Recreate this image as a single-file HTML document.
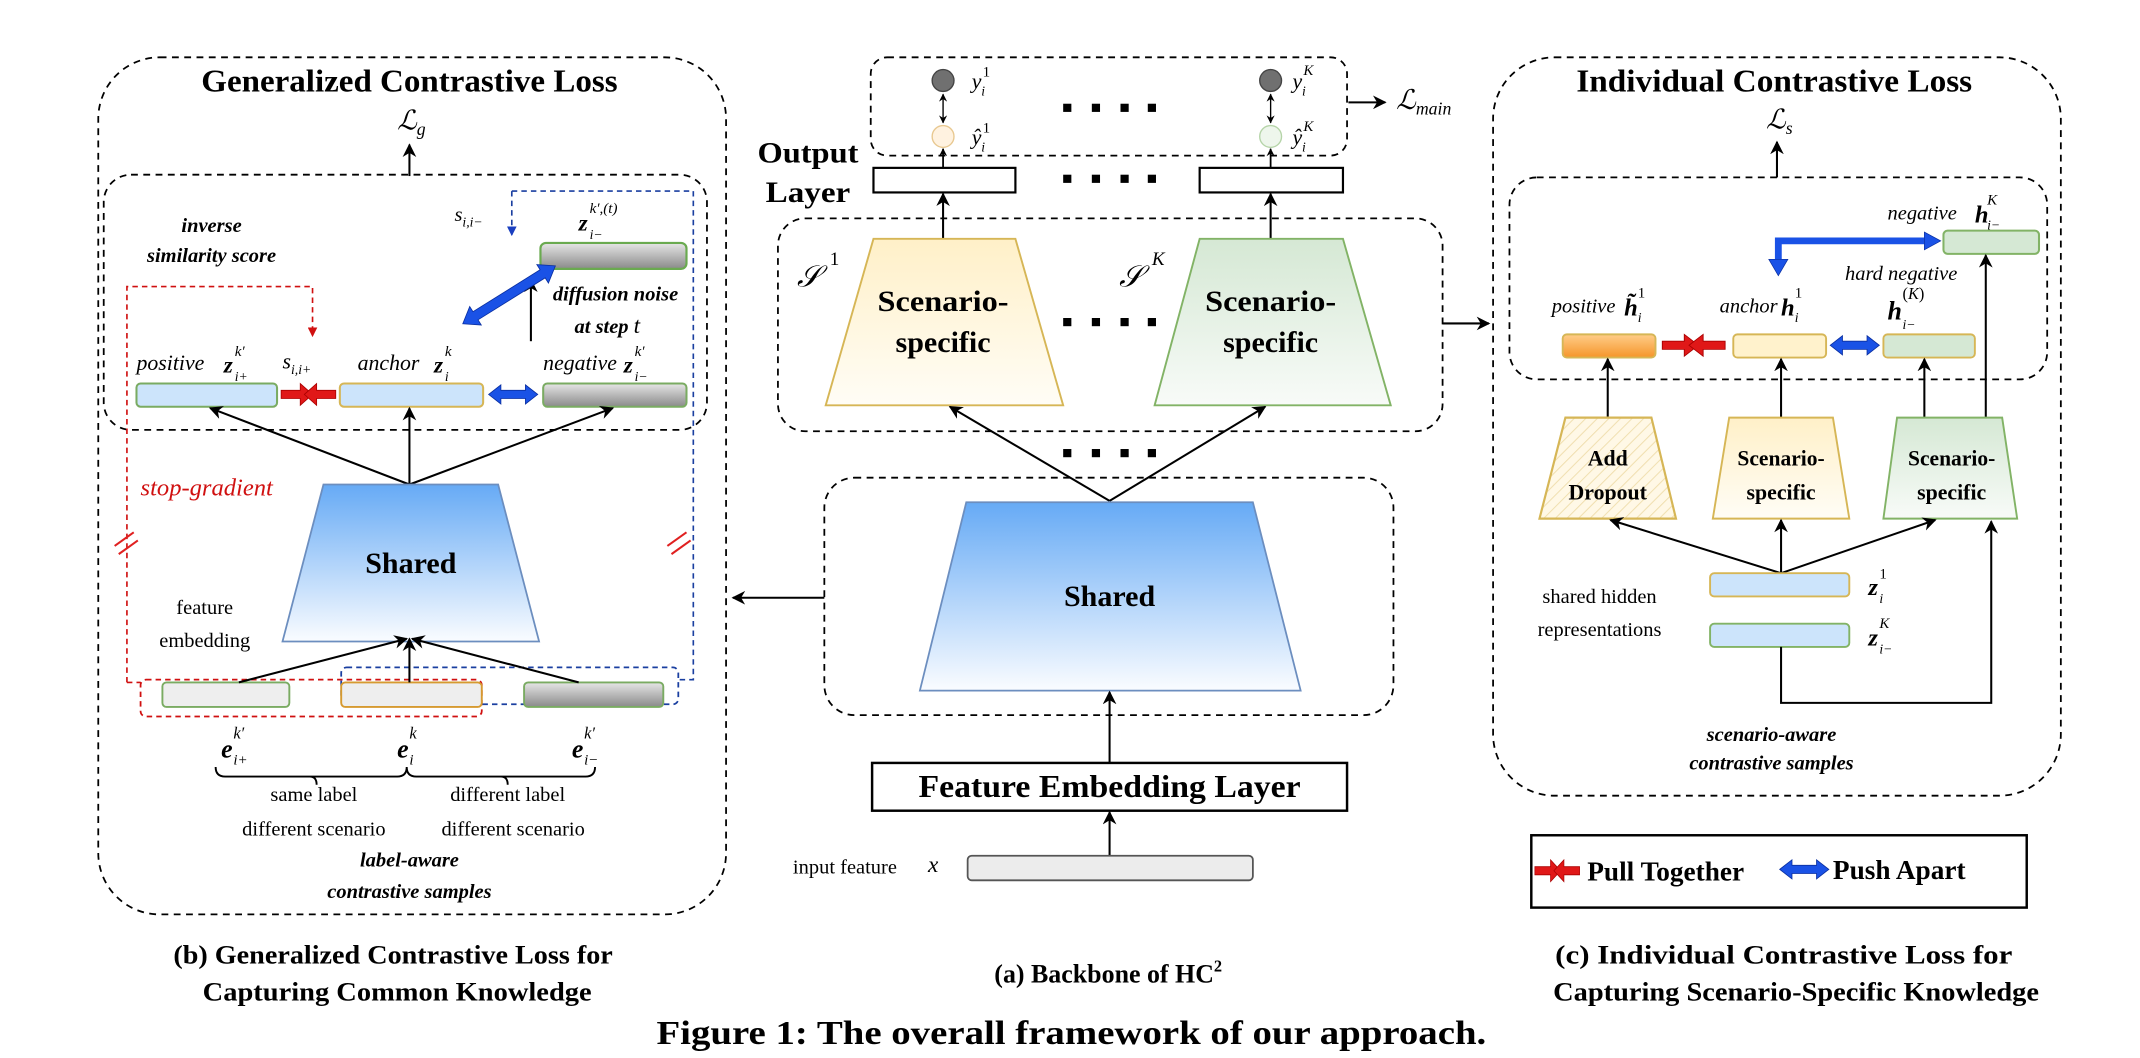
<!DOCTYPE html>
<html><head><meta charset="utf-8"><style>
html,body{margin:0;padding:0;background:#fff;}
svg{display:block;}
text{font-family:"Liberation Serif",serif;fill:#000;}
.b{font-weight:bold;}
.i{font-style:italic;}
.m{font-style:italic;}
.d{fill:none;stroke:#000;stroke-width:1.3;stroke-dasharray:5 4;}
.ln{stroke:#000;stroke-width:1.5;fill:none;}
</style></head><body>
<svg width="2140" height="1058" viewBox="0 0 1568 775.2" preserveAspectRatio="none" xmlns="http://www.w3.org/2000/svg">
<defs>
<marker id="ah" markerWidth="10" markerHeight="10" refX="9" refY="5" orient="auto" markerUnits="userSpaceOnUse">
<path d="M0,0 L10,5 L0,10 L3,5 Z" fill="#000"/></marker>
<marker id="ahs" markerWidth="6" markerHeight="6" refX="5.5" refY="3" orient="auto-start-reverse" markerUnits="userSpaceOnUse">
<path d="M0,0 L6,3 L0,6 L2,3 Z" fill="#000"/></marker>
<marker id="ahb" markerWidth="7" markerHeight="7" refX="6" refY="3.5" orient="auto" markerUnits="userSpaceOnUse">
<path d="M0,0 L7,3.5 L0,7 Z" fill="#1a3fc0"/></marker>
<marker id="ahr" markerWidth="7" markerHeight="7" refX="6" refY="3.5" orient="auto" markerUnits="userSpaceOnUse">
<path d="M0,0 L7,3.5 L0,7 Z" fill="#d01010"/></marker>
<linearGradient id="gb" x1="0" y1="0" x2="0" y2="1"><stop offset="0" stop-color="#66aaf5"/><stop offset="1" stop-color="#fafcff"/></linearGradient>
<linearGradient id="gy" x1="0" y1="0" x2="0" y2="1"><stop offset="0" stop-color="#fff0c8"/><stop offset="1" stop-color="#fffdf6"/></linearGradient>
<linearGradient id="gg" x1="0" y1="0" x2="0" y2="1"><stop offset="0" stop-color="#d5e8d4"/><stop offset="1" stop-color="#f8fbf8"/></linearGradient>
<linearGradient id="gr" x1="0" y1="0" x2="0" y2="1"><stop offset="0" stop-color="#e6e6e6"/><stop offset="1" stop-color="#8a8a8a"/></linearGradient>
<linearGradient id="go" x1="0" y1="0" x2="0" y2="1"><stop offset="0" stop-color="#ffcd8a"/><stop offset="1" stop-color="#f5952a"/></linearGradient>
<pattern id="hatch" width="6" height="6" patternUnits="userSpaceOnUse" patternTransform="rotate(45)"><rect width="6" height="6" fill="#fff8e6"/><line x1="0" y1="0" x2="0" y2="6" stroke="#f0dfb0" stroke-width="1.5"/></pattern>
<g id="pull"><polygon points="-20,-3 -6,-3 -6,-8 3,0 -6,8 -6,3 -20,3" fill="#e01818" stroke="#a00" stroke-width="0.6"/><polygon points="20,-3 6,-3 6,-8 -3,0 6,8 6,3 20,3" fill="#e01818" stroke="#a00" stroke-width="0.6"/></g>
<g id="push"><polygon points="-18,0 -9,-7 -9,-3 9,-3 9,-7 18,0 9,7 9,3 -9,3 -9,7" fill="#1a52e6" stroke="#0a2fa0" stroke-width="0.6"/></g>
</defs>

<!-- ============ LEFT PANEL (b) ============ -->
<rect x="72" y="42" width="460" height="628" rx="45" class="d"/>
<text x="300" y="67" class="b" font-size="23" text-anchor="middle" textLength="305" lengthAdjust="spacingAndGlyphs">Generalized Contrastive Loss</text>
<text x="291" y="95" class="m" font-size="20">ℒ<tspan font-size="13" dy="4">g</tspan></text>
<line x1="300" y1="129" x2="300" y2="106" class="ln" marker-end="url(#ah)"/>
<rect x="76" y="128" width="442" height="187" rx="20" class="d"/>

<path d="M375,140 H508 V498 H497" fill="none" stroke="#1a3fa0" stroke-width="1.2" stroke-dasharray="4 3"/>
<line x1="375" y1="140" x2="375" y2="172" stroke="#1a3fa0" stroke-width="1.2" stroke-dasharray="4 3" marker-end="url(#ahb)"/>
<text x="333" y="162" class="m" font-size="15">s<tspan font-size="10" dy="4">i,i−</tspan></text>
<text x="424" y="169" class="m b" font-size="17">z</text>
<text x="432" y="156" class="m" font-size="11">k′,(t)</text>
<text x="432" y="175" class="m" font-size="10">i−</text>
<rect x="396" y="178" width="107" height="19" rx="4" fill="url(#gr)" stroke="#6aaa50" stroke-width="1.6"/>
<line x1="389" y1="250" x2="389" y2="205" class="ln" marker-end="url(#ah)"/>
<text x="451" y="220" class="b i" font-size="15" text-anchor="middle">diffusion noise</text>
<text x="445" y="244" class="b i" font-size="15" text-anchor="middle">at step <tspan font-weight="normal" font-size="17">t</tspan></text>
<g transform="translate(373,216) rotate(-32)"><polygon points="-40,0 -29,-8 -29,-3.5 29,-3.5 29,-8 40,0 29,8 29,3.5 -29,3.5 -29,8" fill="#1a52e6" stroke="#0a2fa0" stroke-width="0.6"/></g>
<text x="155" y="170" class="b i" font-size="15" text-anchor="middle">inverse</text>
<text x="155" y="192" class="b i" font-size="15" text-anchor="middle">similarity score</text>
<path d="M93,500 V210 H229 V246" fill="none" stroke="#d01010" stroke-width="1.2" stroke-dasharray="4 3" marker-end="url(#ahr)"/>
<path d="M93,500 H103" fill="none" stroke="#d01010" stroke-width="1.2" stroke-dasharray="4 3"/>

<text x="100" y="271" class="i" font-size="16">positive</text>
<text x="164" y="273" class="m b" font-size="17">z</text><text x="172" y="261" class="m" font-size="11">k′</text><text x="172" y="279" class="m" font-size="10">i+</text>
<text x="207" y="270" class="m" font-size="16">s<tspan font-size="10" dy="4">i,i+</tspan></text>
<text x="262" y="271" class="i" font-size="16">anchor</text>
<text x="318" y="273" class="m b" font-size="17">z</text><text x="326" y="261" class="m" font-size="11">k</text><text x="326" y="279" class="m" font-size="10">i</text>
<text x="398" y="271" class="i" font-size="16" textLength="54" lengthAdjust="spacingAndGlyphs">negative</text>
<text x="457" y="273" class="m b" font-size="17">z</text><text x="465" y="261" class="m" font-size="11">k′</text><text x="465" y="279" class="m" font-size="10">i−</text>

<rect x="100" y="281" width="103" height="17" rx="3" fill="#cce4fb" stroke="#7aab62" stroke-width="1.5"/>
<use href="#pull" transform="translate(226,289)"/>
<rect x="249" y="281" width="105" height="17" rx="3" fill="#cce4fb" stroke="#d6b656" stroke-width="1.5"/>
<use href="#push" transform="translate(376,289)"/>
<rect x="398" y="281" width="105" height="17" rx="3" fill="url(#gr)" stroke="#7aab62" stroke-width="1.5"/>

<line x1="300" y1="355" x2="154" y2="299" class="ln" marker-end="url(#ah)"/>
<line x1="300" y1="355" x2="300" y2="299" class="ln" marker-end="url(#ah)"/>
<line x1="300" y1="355" x2="449" y2="299" class="ln" marker-end="url(#ah)"/>

<text x="103" y="363" class="i" font-size="18" style="fill:#d01010">stop-gradient</text>
<polygon points="237,355 365,355 395,470 207,470" fill="url(#gb)" stroke="#6c8ebf" stroke-width="1.3"/>
<text x="301" y="420" class="b" font-size="22" text-anchor="middle">Shared</text>
<line x1="84" y1="400" x2="98" y2="390" stroke="#e02020" stroke-width="1.5"/><line x1="87" y1="406" x2="101" y2="396" stroke="#e02020" stroke-width="1.5"/>
<line x1="489" y1="400" x2="503" y2="390" stroke="#e02020" stroke-width="1.5"/><line x1="492" y1="406" x2="506" y2="396" stroke="#e02020" stroke-width="1.5"/>
<text x="150" y="450" font-size="15" text-anchor="middle">feature</text>
<text x="150" y="474" font-size="15" text-anchor="middle">embedding</text>

<rect x="103" y="498" width="250" height="27" rx="4" fill="none" stroke="#d01010" stroke-width="1.3" stroke-dasharray="4 3"/>
<rect x="250" y="489" width="247" height="27" rx="4" fill="none" stroke="#1a3fa0" stroke-width="1.3" stroke-dasharray="4 3"/>
<rect x="119" y="500" width="93" height="18" rx="3" fill="#eee" stroke="#7aab62" stroke-width="1.4"/>
<rect x="250" y="500" width="103" height="18" rx="3" fill="#eee" stroke="#d69a30" stroke-width="1.4"/>
<rect x="384" y="500" width="102" height="18" rx="3" fill="url(#gr)" stroke="#7aab62" stroke-width="1.4"/>
<line x1="175" y1="500" x2="298" y2="468" class="ln" marker-end="url(#ah)"/>
<line x1="300" y1="500" x2="300" y2="468" class="ln" marker-end="url(#ah)"/>
<line x1="424" y1="500" x2="302" y2="468" class="ln" marker-end="url(#ah)"/>

<text x="162" y="555" class="m b" font-size="19">e</text><text x="171" y="541" class="m" font-size="12">k′</text><text x="171" y="560" class="m" font-size="11">i+</text>
<text x="291" y="555" class="m b" font-size="19">e</text><text x="300" y="541" class="m" font-size="12">k</text><text x="300" y="560" class="m" font-size="11">i</text>
<text x="419" y="555" class="m b" font-size="19">e</text><text x="428" y="541" class="m" font-size="12">k′</text><text x="428" y="560" class="m" font-size="11">i−</text>
<path d="M158,562 q0,7 7,7 H291 M298,562 q0,7 -7,7 M227,569 q5,0 5,6 M298,562 q0,7 7,7 H429 M436,562 q0,7 -7,7 M367,569 q5,0 5,6" fill="none" stroke="#000" stroke-width="1.4"/>
<text x="230" y="587" font-size="15" text-anchor="middle">same label</text>
<text x="372" y="587" font-size="15" text-anchor="middle">different label</text>
<text x="230" y="612" font-size="15" text-anchor="middle">different scenario</text>
<text x="376" y="612" font-size="15" text-anchor="middle">different scenario</text>
<text x="300" y="635" class="b i" font-size="15" text-anchor="middle">label-aware</text>
<text x="300" y="658" class="b i" font-size="15" text-anchor="middle">contrastive samples</text>
<text x="288" y="706" class="b" font-size="19" text-anchor="middle" textLength="322" lengthAdjust="spacingAndGlyphs">(b) Generalized Contrastive Loss for</text>
<text x="291" y="733" class="b" font-size="19" text-anchor="middle" textLength="285" lengthAdjust="spacingAndGlyphs">Capturing Common Knowledge</text>

<!-- ============ MIDDLE PANEL (a) ============ -->
<rect x="638" y="42" width="349" height="72" rx="12" class="d"/>
<circle cx="691" cy="59" r="8" fill="#707070" stroke="#444" stroke-width="1"/>
<circle cx="691" cy="100" r="8" fill="#fff2e0" stroke="#e8c890" stroke-width="1"/>
<circle cx="931" cy="59" r="8" fill="#707070" stroke="#444" stroke-width="1"/>
<circle cx="931" cy="100" r="8" fill="#eef6ec" stroke="#b5d4a8" stroke-width="1"/>
<line x1="691" y1="69" x2="691" y2="90" stroke="#000" stroke-width="1" marker-start="url(#ahs)" marker-end="url(#ahs)"/>
<line x1="931" y1="69" x2="931" y2="90" stroke="#000" stroke-width="1" marker-start="url(#ahs)" marker-end="url(#ahs)"/>
<text x="712" y="65" class="m" font-size="16">y</text><text x="720" y="56" font-size="11">1</text><text x="719" y="70" class="m" font-size="10">i</text>
<text x="712" y="106" class="m" font-size="16">ŷ</text><text x="720" y="97" font-size="11">1</text><text x="719" y="111" class="m" font-size="10">i</text>
<text x="947" y="65" class="m" font-size="16">y</text><text x="955" y="55" class="m" font-size="11">K</text><text x="954" y="70" class="m" font-size="10">i</text>
<text x="947" y="106" class="m" font-size="16">ŷ</text><text x="955" y="96" class="m" font-size="11">K</text><text x="954" y="111" class="m" font-size="10">i</text>
<g fill="#000">
<rect x="779" y="76" width="6" height="6"/><rect x="800" y="76" width="6" height="6"/><rect x="821" y="76" width="6" height="6"/><rect x="841" y="76" width="6" height="6"/>
<rect x="779" y="128" width="6" height="6"/><rect x="800" y="128" width="6" height="6"/><rect x="821" y="128" width="6" height="6"/><rect x="841" y="128" width="6" height="6"/>
<rect x="779" y="233" width="6" height="6"/><rect x="800" y="233" width="6" height="6"/><rect x="821" y="233" width="6" height="6"/><rect x="841" y="233" width="6" height="6"/>
<rect x="779" y="329" width="6" height="6"/><rect x="800" y="329" width="6" height="6"/><rect x="821" y="329" width="6" height="6"/><rect x="841" y="329" width="6" height="6"/></g>
<line x1="988" y1="75" x2="1015" y2="75" class="ln" marker-end="url(#ah)"/>
<text x="1023" y="80" class="m" font-size="20">ℒ<tspan font-size="13" dy="4">main</tspan></text>
<text x="592" y="119" class="b" font-size="22" text-anchor="middle" textLength="74" lengthAdjust="spacingAndGlyphs">Output</text>
<text x="592" y="148" class="b" font-size="22" text-anchor="middle" textLength="62" lengthAdjust="spacingAndGlyphs">Layer</text>
<rect x="640" y="123" width="104" height="18" fill="#fff" stroke="#000" stroke-width="1.6"/>
<rect x="879" y="123" width="105" height="18" fill="#fff" stroke="#000" stroke-width="1.6"/>
<line x1="691" y1="123" x2="691" y2="109" stroke="#000" stroke-width="1.3" marker-end="url(#ahs)"/>
<line x1="931" y1="123" x2="931" y2="109" stroke="#000" stroke-width="1.3" marker-end="url(#ahs)"/>
<line x1="691" y1="175" x2="691" y2="142" class="ln" marker-end="url(#ah)"/>
<line x1="931" y1="175" x2="931" y2="142" class="ln" marker-end="url(#ah)"/>
<rect x="570" y="160" width="487" height="156" rx="20" class="d"/>
<polygon points="640,175 744,175 779,297 605,297" fill="url(#gy)" stroke="#d6b656" stroke-width="1.4"/>
<polygon points="879,175 984,175 1019,297 846,297" fill="url(#gg)" stroke="#82b366" stroke-width="1.4"/>
<text x="584" y="210" class="m" font-size="22">𝒮</text><text x="608" y="194" font-size="14">1</text>
<text x="820" y="210" class="m" font-size="22">𝒮</text><text x="844" y="194" class="m" font-size="14">K</text>
<text x="691" y="228" class="b" font-size="22" text-anchor="middle" textLength="96" lengthAdjust="spacingAndGlyphs">Scenario-</text>
<text x="691" y="258" class="b" font-size="22" text-anchor="middle">specific</text>
<text x="931" y="228" class="b" font-size="22" text-anchor="middle" textLength="96" lengthAdjust="spacingAndGlyphs">Scenario-</text>
<text x="931" y="258" class="b" font-size="22" text-anchor="middle">specific</text>
<line x1="813" y1="367" x2="696" y2="298" class="ln" marker-end="url(#ah)"/>
<line x1="813" y1="367" x2="927" y2="298" class="ln" marker-end="url(#ah)"/>
<rect x="604" y="350" width="417" height="174" rx="22" class="d"/>
<polygon points="708,368 918,368 953,506 674,506" fill="url(#gb)" stroke="#6c8ebf" stroke-width="1.3"/>
<text x="813" y="444" class="b" font-size="22" text-anchor="middle">Shared</text>
<line x1="813" y1="559" x2="813" y2="507" class="ln" marker-end="url(#ah)"/>
<rect x="639" y="559" width="348" height="35" fill="#fff" stroke="#000" stroke-width="1.8"/>
<text x="813" y="584" class="b" font-size="23" text-anchor="middle" textLength="280" lengthAdjust="spacingAndGlyphs">Feature Embedding Layer</text>
<line x1="813" y1="627" x2="813" y2="595" class="ln" marker-end="url(#ah)"/>
<rect x="709" y="627" width="209" height="18" rx="3" fill="#ececec" stroke="#555" stroke-width="1.3"/>
<text x="581" y="640" font-size="15">input feature</text>
<text x="680" y="639" class="m" font-size="17">x</text>
<text x="812" y="720" class="b" font-size="19" text-anchor="middle">(a) Backbone of HC<tspan font-size="12" dy="-8">2</tspan></text>
<line x1="604" y1="438" x2="537" y2="438" class="ln" marker-end="url(#ah)"/>
<line x1="1057" y1="237" x2="1091" y2="237" class="ln" marker-end="url(#ah)"/>
<text x="785" y="765" class="b" font-size="25" text-anchor="middle" textLength="608" lengthAdjust="spacingAndGlyphs">Figure 1: The overall framework of our approach.</text>

<!-- ============ RIGHT PANEL (c) ============ -->
<rect x="1094" y="42" width="416" height="541" rx="45" class="d"/>
<text x="1300" y="67" class="b" font-size="23" text-anchor="middle" textLength="290" lengthAdjust="spacingAndGlyphs">Individual Contrastive Loss</text>
<text x="1294" y="94" class="m" font-size="20">ℒ<tspan font-size="13" dy="4">s</tspan></text>
<line x1="1302" y1="130" x2="1302" y2="104" class="ln" marker-end="url(#ah)"/>
<rect x="1106" y="130" width="394" height="148" rx="20" class="d"/>
<text x="1383" y="161" class="i" font-size="15">negative</text>
<text x="1447" y="163" class="m b" font-size="18">h</text><text x="1456" y="150" class="m" font-size="11">K</text><text x="1456" y="168" class="m" font-size="10">i−</text>
<rect x="1424" y="169" width="70" height="17" rx="3" fill="#d5e8d4" stroke="#82b366" stroke-width="1.5"/>
<path d="M1303,193 V176.5 H1412" fill="none" stroke="#1a52e6" stroke-width="5"/>
<polygon points="1410,170 1422,176.5 1410,183" fill="#1a52e6" stroke="#0a2fa0" stroke-width="0.5"/>
<polygon points="1296,190 1310,190 1303,202" fill="#1a52e6" stroke="#0a2fa0" stroke-width="0.5"/>
<text x="1393" y="205" class="i" font-size="15" text-anchor="middle">hard negative</text>
<text x="1137" y="229" class="i" font-size="15">positive</text>
<text x="1190" y="231" class="m b" font-size="18">h̃</text><text x="1200" y="218" font-size="11">1</text><text x="1200" y="236" class="m" font-size="10">i</text>
<text x="1260" y="229" class="i" font-size="15">anchor</text>
<text x="1305" y="231" class="m b" font-size="18">h</text><text x="1315" y="218" font-size="11">1</text><text x="1315" y="236" class="m" font-size="10">i</text>
<text x="1383" y="234" class="m b" font-size="19">h</text><text x="1394" y="219" font-size="12">(<tspan font-style="italic">K</tspan>)</text><text x="1394" y="241" class="m" font-size="10">i−</text>
<rect x="1145" y="245" width="68" height="17" rx="3" fill="url(#go)" stroke="#d6b656" stroke-width="1.4"/>
<use href="#pull" transform="translate(1241,253) scale(1.15,1)"/>
<rect x="1270" y="245" width="68" height="17" rx="3" fill="#fff2cc" stroke="#d6b656" stroke-width="1.4"/>
<use href="#push" transform="translate(1359,253)"/>
<rect x="1380" y="245" width="67" height="17" rx="3" fill="#d5e8d4" stroke="#d6b656" stroke-width="1.4"/>
<line x1="1178" y1="306" x2="1178" y2="263" class="ln" marker-end="url(#ah)"/>
<line x1="1305" y1="306" x2="1305" y2="263" class="ln" marker-end="url(#ah)"/>
<line x1="1410" y1="306" x2="1410" y2="263" class="ln" marker-end="url(#ah)"/>
<line x1="1455" y1="306" x2="1455" y2="187" class="ln" marker-end="url(#ah)"/>
<polygon points="1147,306 1210,306 1228,380 1128,380" fill="url(#hatch)" stroke="#d6b656" stroke-width="1.6"/>
<polygon points="1267,306 1343,306 1355,380 1255,380" fill="url(#gy)" stroke="#d6b656" stroke-width="1.4"/>
<polygon points="1390,306 1467,306 1478,380 1380,380" fill="url(#gg)" stroke="#82b366" stroke-width="1.4"/>
<text x="1178" y="341" class="b" font-size="16" text-anchor="middle">Add</text>
<text x="1178" y="366" class="b" font-size="16" text-anchor="middle">Dropout</text>
<text x="1305" y="341" class="b" font-size="16" text-anchor="middle" textLength="64" lengthAdjust="spacingAndGlyphs">Scenario-</text>
<text x="1305" y="366" class="b" font-size="16" text-anchor="middle">specific</text>
<text x="1430" y="341" class="b" font-size="16" text-anchor="middle" textLength="64" lengthAdjust="spacingAndGlyphs">Scenario-</text>
<text x="1430" y="366" class="b" font-size="16" text-anchor="middle">specific</text>
<line x1="1305" y1="420" x2="1180" y2="381" class="ln" marker-end="url(#ah)"/>
<line x1="1305" y1="420" x2="1305" y2="381" class="ln" marker-end="url(#ah)"/>
<line x1="1305" y1="420" x2="1418" y2="381" class="ln" marker-end="url(#ah)"/>
<rect x="1253" y="420" width="102" height="17" rx="3" fill="#cce4fb" stroke="#d6b656" stroke-width="1.4"/>
<rect x="1253" y="457" width="102" height="17" rx="3" fill="#cce4fb" stroke="#82b366" stroke-width="1.4"/>
<path d="M1305,474 V515 H1459 V382" class="ln" marker-end="url(#ah)"/>
<text x="1369" y="436" class="m b" font-size="18">z</text><text x="1377" y="424" font-size="11">1</text><text x="1377" y="442" class="m" font-size="10">i</text>
<text x="1369" y="473" class="m b" font-size="18">z</text><text x="1377" y="460" class="m" font-size="11">K</text><text x="1377" y="479" class="m" font-size="10">i−</text>
<text x="1172" y="442" font-size="15" text-anchor="middle">shared hidden</text>
<text x="1172" y="466" font-size="15" text-anchor="middle">representations</text>
<text x="1298" y="543" class="b i" font-size="15" text-anchor="middle">scenario-aware</text>
<text x="1298" y="564" class="b i" font-size="15" text-anchor="middle">contrastive samples</text>
<rect x="1122" y="612" width="363" height="53" fill="#fff" stroke="#000" stroke-width="1.8"/>
<use href="#pull" transform="translate(1141,638) scale(0.82,1)"/>
<text x="1163" y="645" class="b" font-size="20">Pull Together</text>
<use href="#push" transform="translate(1322,637)"/>
<text x="1343" y="644" class="b" font-size="20">Push Apart</text>
<text x="1307" y="706" class="b" font-size="19" text-anchor="middle" textLength="335" lengthAdjust="spacingAndGlyphs">(c) Individual Contrastive Loss for</text>
<text x="1316" y="733" class="b" font-size="19" text-anchor="middle" textLength="356" lengthAdjust="spacingAndGlyphs">Capturing Scenario-Specific Knowledge</text>
</svg>
</body></html>
